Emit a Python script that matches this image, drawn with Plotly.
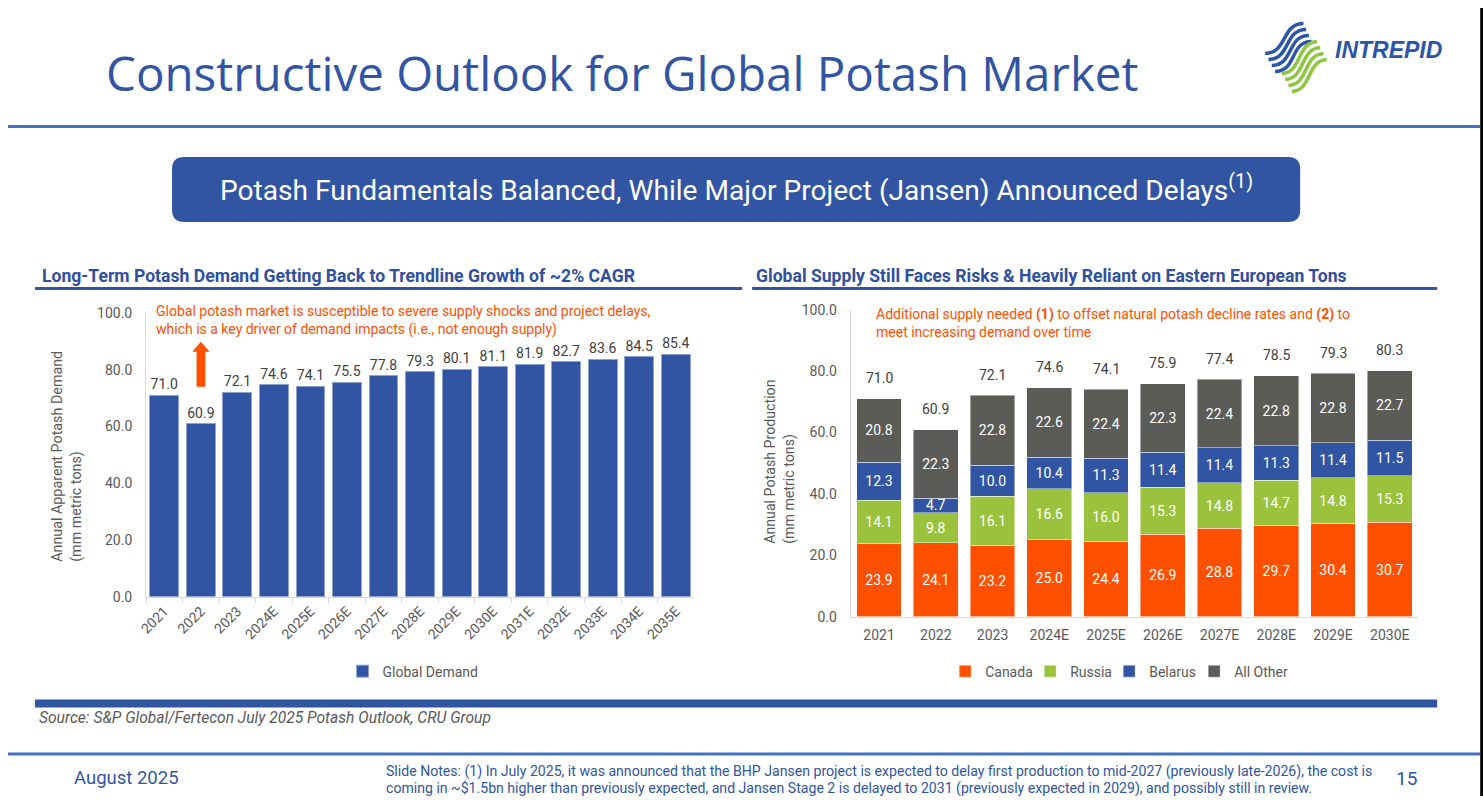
import plotly.graph_objects as go

# Figure size; the hosting page adds a body margin and the capture is rescaled,
# so reference pixel positions are mapped through a measured page transform.
W, H = 1483, 804
OFF = 8          # body margin in px
SX, SY = 0.9945, 0.981   # measured capture scale (page px -> picture px)

# ---------------- data ----------------
demand_years = ["2021", "2022", "2023", "2024E", "2025E", "2026E", "2027E", "2028E",
                "2029E", "2030E", "2031E", "2032E", "2033E", "2034E", "2035E"]
global_demand = [71.0, 60.9, 72.1, 74.6, 74.1, 75.5, 77.8, 79.3, 80.1, 81.1, 81.9, 82.7, 83.6, 84.5, 85.4]

supply_years = ["2021", "2022", "2023", "2024E", "2025E", "2026E", "2027E", "2028E", "2029E", "2030E"]
canada = [23.9, 24.1, 23.2, 25.0, 24.4, 26.9, 28.8, 29.7, 30.4, 30.7]
russia = [14.1, 9.8, 16.1, 16.6, 16.0, 15.3, 14.8, 14.7, 14.8, 15.3]
belarus = [12.3, 4.7, 10.0, 10.4, 11.3, 11.4, 11.4, 11.3, 11.4, 11.5]
all_other = [20.8, 22.3, 22.8, 22.6, 22.4, 22.3, 22.4, 22.8, 22.8, 22.7]
supply_total = [71.0, 60.9, 72.1, 74.6, 74.1, 75.9, 77.4, 78.5, 79.3, 80.3]

y_ticks = [0, 20, 40, 60, 80, 100]
y_ticktext = [f"{v:.1f}" for v in y_ticks]

# ---------------- styles ----------------
BLUE = "#3155A3"
LINE_BLUE = "#4472C4"
ORANGE = "#FF5000"
GREEN = "#9BC23C"
DGRAY = "#5B5B57"
TXT = "#595959"
LBL = "#404040"
FONT = "Roboto"


def px(x):
    return min(max((x / SX - OFF) / W, 0), 1)


def py(y):
    return min(max(1 - (y / SY - OFF) / H, 0), 1)


def pt(x, y):
    return f"{px(x):.5f},{py(y):.5f}"


fig = go.Figure()

# left chart
fig.add_trace(go.Bar(
    x=demand_years, y=global_demand, name="Global Demand",
    marker=dict(color=BLUE, line=dict(color="#8EA2CF", width=1)),
    text=[f"{v:.1f}" for v in global_demand], textposition="outside",
    textfont=dict(color=LBL, size=14, family=FONT), cliponaxis=False,
    xaxis="x", yaxis="y", legend="legend",
))

# right chart (stacked)
series = [("Canada", canada, ORANGE, 40), ("Russia", russia, GREEN, 34),
          ("Belarus", belarus, BLUE, 40), ("All Other", all_other, DGRAY, 52)]
for name, vals, color, lw in series:
    fig.add_trace(go.Bar(
        x=supply_years, y=vals, name=name, legendwidth=lw,
        marker=dict(color=color, line=dict(color="rgba(255,255,255,0.45)", width=1)),
        text=[f"{v:.1f}" for v in vals], textposition="inside", insidetextanchor="middle",
        textangle=0, constraintext="none",
        textfont=dict(color="white", size=14, family=FONT),
        xaxis="x2", yaxis="y2", legend="legend2",
    ))

annotations = []
# totals above the stacked bars (x given as category serial number)
for i, tot in enumerate(supply_total):
    annotations.append(dict(x=i, y=tot, xref="x2", yref="y2", text=f"{tot:.1f}",
                            showarrow=False, yshift=20.5, yanchor="middle",
                            font=dict(color=LBL, size=14, family=FONT)))


def note(x, y, text, size, color, xanchor="left", yanchor="middle", **kw):
    annotations.append(dict(x=px(x), y=py(y), xref="paper", yref="paper", text=text,
                            showarrow=False, xanchor=xanchor, yanchor=yanchor, align="left",
                            font=dict(size=size, color=color, family=kw.pop("family", FONT)), **kw))


note(104, 72, "Constructive Outlook for Global Potash Market", 47.5, BLUE, family="Open Sans")
note(736, 189, "Potash Fundamentals Balanced, While Major Project (Jansen) Announced Delays<sup>(1)</sup>",
     28.1, "white", xanchor="center")
note(40, 276, "<b>Long-Term Potash Demand Getting Back to Trendline Growth of ~2% CAGR</b>", 17.6, "#2F4F9F")
note(754, 276, "<b>Global Supply Still Faces Risks &amp; Heavily Reliant on Eastern European Tons</b>", 17.6, "#2F4F9F")
note(154, 321, "Global potash market is susceptible to severe supply shocks and project delays,<br>"
               "which is a key driver of demand impacts (i.e., not enough supply)", 14, ORANGE)
note(874, 323, "Additional supply needed <b>(1)</b> to offset natural potash decline rates and <b>(2)</b> to<br>"
               "meet increasing demand over time", 14, ORANGE)
note(67, 457, "Annual Apparent Potash Demand<br>(mm metric tons)", 14.3, TXT, xanchor="center",
     textangle=-90)
note(780, 462, "Annual Potash Production<br>(mm metric tons)", 14.2, TXT, xanchor="center", textangle=-90)
note(37, 719, "<i>Source: S&amp;P Global/Fertecon July 2025 Potash Outlook, CRU Group</i>", 15.6, TXT)
note(72, 779, "August 2025", 18.5, BLUE)
note(384, 772, "Slide Notes: (1) In July 2025, it was announced that the BHP Jansen project is expected to delay "
               "first production to mid-2027 (previously late-2026), the cost is", 14.1, BLUE)
note(384, 789, "coming in ~$1.5bn higher than previously expected, and Jansen Stage 2 is delayed to 2031 "
               "(previously expected in 2029), and possibly still in review.", 14.1, BLUE)
note(1406, 779, "15", 19, BLUE, xanchor="center")
note(1333, 50, "<b><i>INTREPID</i></b>", 23, "#2A56A8", family="Liberation Sans")

# ---------------- shapes ----------------
shapes = []


def rect(x0, y0, x1, y1, color):
    shapes.append(dict(type="rect", xref="paper", yref="paper", x0=px(x0), x1=px(x1),
                       y0=py(y1), y1=py(y0), fillcolor=color, line=dict(width=0), layer="above"))


def rrect_path(x0, y0, x1, y1, r):
    return (f"M {pt(x0 + r, y0)} L {pt(x1 - r, y0)} Q {pt(x1, y0)} {pt(x1, y0 + r)} "
            f"L {pt(x1, y1 - r)} Q {pt(x1, y1)} {pt(x1 - r, y1)} L {pt(x0 + r, y1)} "
            f"Q {pt(x0, y1)} {pt(x0, y1 - r)} L {pt(x0, y0 + r)} Q {pt(x0, y0)} {pt(x0 + r, y0)} Z")


# banner
shapes.append(dict(type="path", xref="paper", yref="paper", path=rrect_path(172, 157, 1300, 222, 12),
                   fillcolor=BLUE, line=dict(width=0), layer="below"))
# title & footer lines
rect(3, 125, 1480, 128, LINE_BLUE)
rect(3, 753, 1480, 756, LINE_BLUE)
# heading underlines
rect(35, 287, 742, 290, BLUE)
rect(752, 287, 1437, 290, BLUE)
# source bar
rect(35, 700, 1437, 708, BLUE)
# right edge of the slide frame (the only edge that falls inside the figure)
rect(1480, 0, 1483, 804, "black")
# orange arrow
arrow = (f"M {pt(200.8, 342)} L {pt(209.5, 352)} L {pt(205.3, 352)} L {pt(205.3, 387)} "
         f"L {pt(196.5, 387)} L {pt(196.5, 352)} L {pt(192.2, 352)} Z")
shapes.append(dict(type="path", xref="paper", yref="paper", path=arrow, fillcolor=ORANGE,
                   line=dict(width=0)))

# logo stripes
for i in range(4):
    x0, y0 = 1265 + 3.3 * i, 53.3 + 6 * i
    x1, y1 = 1303.3 + 2.7 * i, 23.3 + 6 * i
    p = f"M {pt(x0, y0)} C {pt(x0 + 22, y0)} {pt(x1 - 22, y1)} {pt(x1, y1)}"
    shapes.append(dict(type="path", xref="paper", yref="paper", path=p,
                       line=dict(color="#2A56A8", width=3.5), fillcolor="rgba(0,0,0,0)"))
for i in range(4):
    x0, y0 = 1281.7 + 3.3 * i, 73.3 + 6 * i
    x1, y1 = 1316.7 + 3.3 * i, 41.7 + 6 * i
    p = f"M {pt(x0, y0)} C {pt(x0 + 20, y0)} {pt(x1 - 20, y1)} {pt(x1, y1)}"
    shapes.append(dict(type="path", xref="paper", yref="paper", path=p,
                       line=dict(color="#8DC63F", width=3.5), fillcolor="rgba(0,0,0,0)"))

axis_common = dict(showgrid=False, zeroline=False, showline=True, linecolor="#D9D9D9")
tf14 = dict(size=14, color=TXT, family=FONT)

fig.update_layout(
    width=W, height=H, margin=dict(l=0, r=0, t=0, b=0),
    paper_bgcolor="white", plot_bgcolor="white",
    barmode="stack", showlegend=True,
    font=dict(family=FONT, color=TXT),
    xaxis=dict(domain=[px(146), px(694)], anchor="y", ticks="outside", tickson="boundaries",
               ticklen=5, tickcolor="#D9D9D9", tickangle=-45, type="category",
               range=[-0.5, len(demand_years) - 0.5], tickfont=tf14, **axis_common),
    yaxis=dict(domain=[py(597), py(313)], anchor="x", range=[0, 100], tickvals=y_ticks,
               ticktext=y_ticktext, ticks="", ticklabelstandoff=10, tickfont=tf14, **axis_common),
    xaxis2=dict(domain=[px(850.5), px(1418)], anchor="y2", ticks="", type="category",
                range=[-0.5, len(supply_years) - 0.5], ticklabelstandoff=6, tickfont=tf14,
                **axis_common),
    yaxis2=dict(domain=[py(617), py(310)], anchor="x2", range=[0, 100], tickvals=y_ticks,
                ticktext=y_ticktext, ticks="", ticklabelstandoff=10, tickfont=tf14, **axis_common),
    bargap=0.21,
    legend=dict(x=px(413), y=py(672), xanchor="center", yanchor="middle", orientation="h",
                font=dict(size=14, color=TXT, family=FONT), itemwidth=30, bgcolor="rgba(0,0,0,0)"),
    legend2=dict(x=px(1118), y=py(672), xanchor="center", yanchor="middle", orientation="h",
                 font=dict(size=14, color=TXT, family=FONT), itemwidth=30, bgcolor="rgba(0,0,0,0)",
                 traceorder="normal"),
    annotations=annotations,
    shapes=shapes,
)

fig.write_html("out.html", config={"displayModeBar": False})
